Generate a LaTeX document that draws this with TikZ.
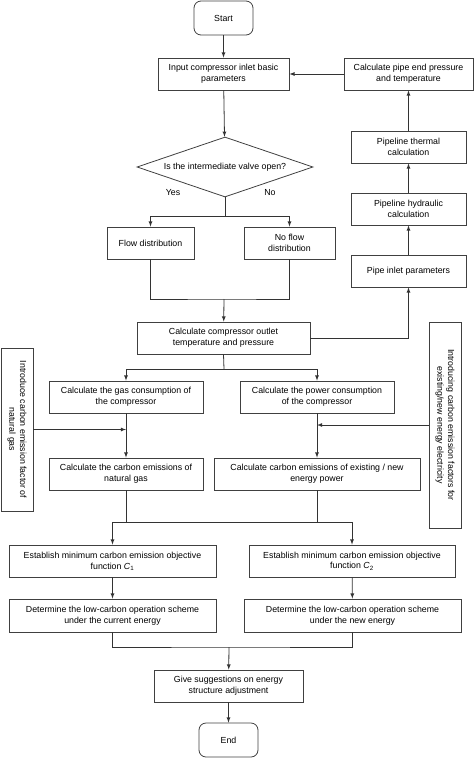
\documentclass[tikz,border=0pt]{standalone}
\usepackage{fontspec}
\setmainfont{Liberation Sans}
\usetikzlibrary{shapes.geometric,arrows,positioning}

\begin{document}
\begin{tikzpicture}[x=1pt,y=-1pt,>=latex,line width=0.8pt,draw=black!80,
                    font=\fontsize{8.8}{10.8}\selectfont,
                    box/.style={rectangle,draw=black!75,align=center,inner sep=1pt,minimum height=32pt},
                    term/.style={box,rounded corners=7pt,minimum width=59pt,minimum height=34pt},
                    decision/.style={diamond,draw=black!75,aspect=2.9,inner sep=0pt,
                                     minimum width=176pt,minimum height=60pt},
                    side/.style={box,rotate=-90}]
\useasboundingbox (0,0) rectangle (474,758);

\node[term] (1) at (223.5,18) {Start};
\node[box,minimum width=131pt] (2) at (223.5,74) {Input compressor inlet basic\\parameters};
\node[decision] (3) at (225,167) {Is the intermediate valve open?};
\node (4) at (173,193) {Yes};
\node (5) at (270,193) {No};
\node[box,minimum width=87pt] (6) at (150.5,243) {Flow distribution};
\node[box,minimum width=91pt] (7) at (289.5,243) {No flow\\distribution};
\node[box,minimum width=173pt] (8) at (223.5,338) {Calculate compressor outlet\\temperature and pressure};

\node[box,minimum width=115pt] (9) at (408.5,271) {Pipe inlet parameters};
\node[box,minimum width=115pt] (10) at (408.5,209) {Pipeline hydraulic\\calculation};
\node[box,minimum width=115pt] (11) at (408.5,147) {Pipeline thermal\\calculation};
\node[box,minimum width=129pt] (12) at (408.5,74) {Calculate pipe end pressure\\and temperature};

\node[box,minimum width=154pt] (13) at (126,397) {Calculate the gas consumption of\\the compressor};
\node[box,minimum width=154pt] (14) at (317,397) {Calculate the power consumption\\of the compressor};
\node[box,minimum width=154pt] (15) at (126,474) {Calculate the carbon emissions of\\natural gas};
\node[box,minimum width=206pt] (16) at (317,474) {Calculate carbon emissions of existing / new\\energy power};
\node[side,minimum width=163pt] (17) at (17,429.5) {Introduce carbon emission factor of\\natural gas};
\node[side,minimum width=206pt] (18) at (445,425) {Introducing carbon emission factors for\\existing/new energy electricity};

\node[box,minimum width=207pt] (19) at (112.5,561) {Establish minimum carbon emission objective\\function \textit{C}\textsubscript{1}};
\node[box,minimum width=206pt] (20) at (352,561) {Establish minimum carbon emission objective\\function \textit{C}\textsubscript{2}};
\node[box,minimum width=207pt,minimum height=33pt] (21) at (112.5,615.5) {Determine the low-carbon operation scheme\\under the current energy};
\node[box,minimum width=217pt,minimum height=33pt] (22) at (352.5,615.5) {Determine the low-carbon operation scheme\\under the new energy};
\node[box,minimum width=149pt] (23) at (228.5,686) {Give suggestions on energy\\structure adjustment};
\node[term] (24) at (228.5,740) {End};

\coordinate (s1) at (225,216);
\coordinate (m1) at (224,299);
\coordinate (s2) at (224,369);
\coordinate (m2) at (232,522);
\coordinate (m3) at (229,647);

\draw[->] (1) -- (2);
\draw[->] (2) -- (3);
\draw (3.south) -- (s1);
\draw[->] (s1) -| (6.north);
\draw[->] (s1) -| (7.north);
\draw (6.south) |- (m1) -| (7.south);
\draw[->] (m1) -- (8);
\draw[->] (8.east) -| (9.south);
\draw[->] (9) -- (10);
\draw[->] (10) -- (11);
\draw[->] (11) -- (12);
\draw[->] (12) -- (2);
\draw (8.south) -- (s2);
\draw[->] (s2) -| (13.north);
\draw[->] (s2) -| (14.north);
\draw[->] (13) -- (15);
\draw[->] (14) -- (16);
\draw[->] (17.north) -- (17.north -| 13.south);
\draw[->] (18.south) -- (18.south -| 14.south);
\draw (15.south) -- (15.south |- m2);
\draw (16.south) -- (16.south |- m2);
\draw[->] (m2) -| (19.north);
\draw[->] (m2) -| (20.north);
\draw[->] (19) -- (21);
\draw[->] (20) -- (22);
\draw (21.south) |- (m3) -| (22.south);
\draw[->] (m3) -- (23);
\draw[->] (23) -- (24);
\end{tikzpicture}
\end{document}
